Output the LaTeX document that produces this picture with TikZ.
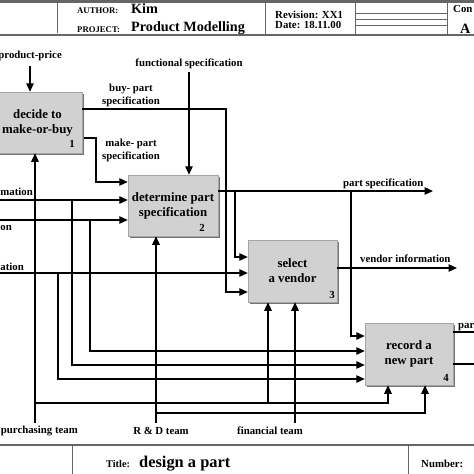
\documentclass[tikz,border=0pt]{standalone}
\usepackage{fontspec}
\setmainfont{Liberation Serif}
\usetikzlibrary{arrows.meta,shadows}
\begin{document}
\begin{tikzpicture}[x=1pt,y=-1pt,
  frame/.style={draw=black!60,line width=1pt},
  proc/.style={draw=black!35,line width=0.5pt,fill=black!18,minimum width=89pt,minimum height=61pt,inner sep=0pt,align=center,
    font=\fontsize{12.8}{15}\selectfont\bfseries,
    drop shadow={shadow xshift=2pt,shadow yshift=-2pt,fill=black!55,opacity=1}},
  num/.style={font=\fontsize{10.8}{12}\selectfont\bfseries,inner sep=0pt},
  lbl/.style={font=\fontsize{10.8}{13}\selectfont\bfseries,inner sep=0pt,align=center},
  hdr/.style={font=\fontsize{10.8}{12}\selectfont\bfseries,inner sep=0pt,anchor=base west},
  smallcaps/.style={font=\fontsize{8.7}{10}\selectfont\bfseries,inner sep=0pt,anchor=base west},
  big/.style={font=\fontsize{14.2}{16}\selectfont\bfseries,inner sep=0pt,anchor=base west},
  arr/.style={line width=1.3pt,-{Triangle[length=8.5pt,width=7.5pt]}},
  ln/.style={line width=1.3pt}]
\useasboundingbox (0,0) rectangle (474,474);
\fill[white] (0,0) rectangle (474,474);
\clip (0,0) rectangle (474,474);

% header frame
\draw[frame,line width=2.6pt] (0,1.3) -- (474,1.3);
\draw[frame,line width=1.6pt] (0,35) -- (474,35);
\draw[frame] (57,0) -- (57,33);
\draw[frame] (265,0) -- (265,35);
\draw[frame] (355,0) -- (355,35);
\draw[frame] (447,0) -- (447,35);
\draw[frame,line width=0.8pt] (355,13.5) -- (447,13.5);
\draw[frame,line width=0.8pt] (355,19) -- (447,19);
\draw[frame,line width=0.8pt] (355,25) -- (447,25);
\node[smallcaps] (au) at (77,13) {AUTHOR:};
\node[big] (kim) at (131,13) {Kim};
\node[smallcaps] (pj) at (77,32) {PROJECT:};
\node[big] (pm) at (131,31) {Product Modelling};
\node[hdr] (rev) at (275,18) {Revision: XX1};
\node[hdr] (dat) at (275,28) {Date: 18.11.00};
\node[hdr] (con) at (453,12) {Con};
\node[big] (aa) at (460,33) {A};

% footer frame
\draw[frame,line width=1.3pt] (0,445) -- (474,445);
\draw[frame] (72,445) -- (72,474);
\draw[frame] (408,445) -- (408,474);
\node[hdr,font=\fontsize{10.3}{12}\selectfont\bfseries] (tt) at (106,467) {Title:};
\node[big,font=\fontsize{16.4}{18}\selectfont\bfseries] (dp) at (139,467) {design a part};
\node[hdr] (nb) at (421,467) {Number:};

% boxes
\node[proc] (box1) at (37.5,122.5) {decide to\\make-or-buy};
\node[proc,minimum width=90pt] (box2) at (173,205.5) {determine part\\specification};
\node[proc,minimum height=62pt] (box3) at (292.5,271) {select\\a vendor};
\node[proc,minimum width=88pt,minimum height=62pt] (box4) at (409,354) {record a\\new part};
\node[num] (n1) at (72,144) {1};
\node[num] (n2) at (202,228) {2};
\node[num] (n3) at (332,295) {3};
\node[num] (n4) at (446,378) {4};

% labels
\node[lbl,anchor=base east] (pp) at (62,58) {product-price};
\node[lbl,anchor=base] (fs) at (189,66) {functional specification};
\node[lbl] (bps) at (131,95) {buy- part\\specification};
\node[lbl] (mps) at (131,150) {make- part\\specification};
\node[lbl,anchor=base west] (ps) at (343,186) {part specification};
\node[lbl,anchor=base west] (vi) at (360,262) {vendor information};
\node[lbl,anchor=base west] (par) at (458,328) {par};
\node[lbl,anchor=base east] (in1) at (33,195) {mation};
\node[lbl,anchor=base east] (in2) at (12,230) {on};
\node[lbl,anchor=base east] (in3) at (24,270) {ation};
\node[lbl,anchor=base east] (pt) at (78,433) {purchasing team};
\node[lbl,anchor=base] (rd) at (161,434) {R \& D team};
\node[lbl,anchor=base] (ft) at (270,434) {financial team};

% coordinates of free ends
\coordinate (ppS) at (30,66);
\coordinate (fsS) at (189,72);
\coordinate (i1) at (0,200);
\coordinate (i2) at (0,220);
\coordinate (i3) at (0,273);
\coordinate (psE) at (433,191);
\coordinate (viE) at (457,268);
\coordinate (o1) at (474,332);
\coordinate (o2) at (474,364);
\coordinate (ptB) at (35,423);
\coordinate (rdB) at (156,423);
\coordinate (ftB) at (295,423);

% controls
\draw[arr] (ppS) -- (ppS |- box1.north);
\draw[arr] (fsS) -- (fsS |- box2.north);

% outputs of box1
\draw[arr] (box1.east |- 0,109) -| (226,292) -- (box3.west |- 0,292);
\draw[arr] (84,138) -| (96,182) -- (box2.west |- 0,182);

% output of box2
\draw[arr] (box2.east |- 0,191) -- (psE);
\draw[arr] (235,191) |- (box3.west |- 0,257);
\draw[arr] (351,191) |- (box4.west |- 0,336);

% output of box3
\draw[arr] (box3.east |- 0,268) -- (viE);

% outputs of box4
\draw[ln] (box4.east |- 0,332) -- (o1);
\draw[ln] (box4.east |- 0,364) -- (o2);

% inputs
\draw[arr] (i1) -- (box2.west |- i1);
\draw[arr] (72,200) |- (box4.west |- 0,365);
\draw[arr] (i2) -- (box2.west |- i2);
\draw[arr] (90,220) |- (box4.west |- 0,351);
\draw[arr] (i3) -- (box3.west |- i3);
\draw[arr] (58,273) |- (box4.west |- 0,379);

% mechanisms
\draw[arr] (ptB) -- (ptB |- box1.south);
\draw[arr] (35,403) -| (box4.south -| 388,0);
\draw[arr] (268,403) -- (box3.south -| 268,0);
\draw[arr] (rdB) -- (rdB |- box2.south);
\draw[arr] (156,413) -| (box4.south -| 425,0);
\draw[arr] (ftB) -- (ftB |- box3.south);
\end{tikzpicture}
\end{document}
